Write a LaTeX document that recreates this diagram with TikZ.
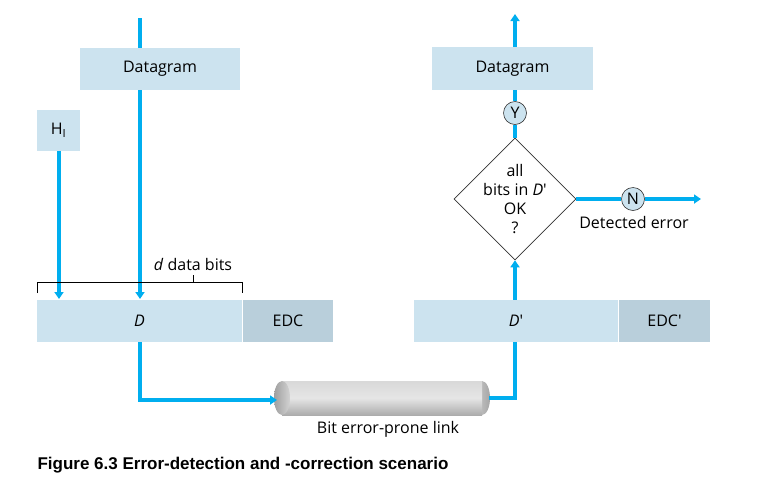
\documentclass[tikz,border=0pt]{standalone}
\usepackage{fontspec}
\setmainfont{Open Sans}
\newfontfamily\capfont{Liberation Sans}
\usetikzlibrary{arrows.meta,shapes.geometric}
\definecolor{boxblue}{HTML}{CCE3EF}
\definecolor{edcblue}{HTML}{B9CFDB}
\definecolor{flow}{HTML}{00AEEF}
\newcommand\myprime{{\upshape\textquotesingle}}
\begin{document}
\begin{tikzpicture}[x=1pt,y=-1pt,font=\fontsize{16}{18}\selectfont,
  box/.style={fill=boxblue,draw=none},
  edc/.style={fill=edcblue,draw=none},
  flow/.style={draw=flow,line width=3.2pt},
  arr/.style={flow,-{Triangle[length=7pt,width=9pt]}},
  yn/.style={circle,draw=black!80,fill=boxblue,inner sep=0pt,minimum size=23pt,line width=0.6pt}]
\useasboundingbox (0,0) rectangle (760,488);
% sender side
\coordinate (top1) at (140,18);
\draw[arr] (top1) -- (140,299);
\node[box,minimum width=160pt,minimum height=42pt] (dg1) at (160,69) {Datagram};
\node[box,minimum width=43pt,minimum height=41pt] (hi) at (58.5,130.5) {H\textsubscript{I}};
\node[box,minimum width=205pt,minimum height=42pt] (d) at (139.5,321) {\itshape D};
\node[edc,minimum width=90pt,minimum height=42pt] (edc) at (288,321) {EDC};
\draw[arr] (hi.south -| 59,0) -- (59,299);
% brace
\draw[line width=0.6pt] (37,293) -- (37,282) -- (242,282) -- (242,293);
\draw[line width=0.6pt] (193,282) -- (193,275);
\node (dbits) at (193,264) {\textit{d} data bits};
% link
\shade[left color=gray!40,right color=gray!70] (482,398) ellipse (8pt and 17pt);
\shade[top color=gray!30,bottom color=gray!65,middle color=gray!20] (282,381) rectangle (482,415);
\shade[left color=gray!75,right color=gray!35] (282,398) ellipse (8pt and 17pt);
\coordinate (linkl) at (277,400);
\coordinate (linkr) at (489,398);
\node (lnk) at (388,429) {Bit error-prone link};
\draw[arr] (d.south -| 140,0) -- (140,400) -- (linkl);
% receiver side
\coordinate (top2) at (515,14);
\draw[arr] (515,90) -- (top2);
\node[box,minimum width=204pt,minimum height=42pt] (dp) at (516,321) {\itshape D\myprime};
\node[edc,minimum width=91pt,minimum height=42pt] (edcp) at (664.5,321) {EDC\myprime};
\node[diamond,draw=black!80,line width=0.6pt,fill=white,minimum width=122pt,minimum height=122pt,inner sep=0pt] (chk) at (515,199) {};
\node[align=center,font=\fontsize{16}{19}\selectfont] (chktxt) at (chk.center) {all\\bits in \textit{D}\myprime\\OK\\?};
\node[box,minimum width=161pt,minimum height=43pt] (dg2) at (512.5,68.5) {Datagram};
\node[yn] (y) at (515,113) {Y};
\node[yn] (n) at (633,199) {N};
\coordinate (outn) at (701,199);
\node (det) at (634,222) {Detected error};
\draw[flow] (linkr) -- (515,398) -- (dp.south -| 515,0);
\draw[arr] (dp.north -| 515,0) -- (chk.south);
\draw[flow] (chk.north) -- (y);
\draw[flow] (y) -- (dg2.south -| 515,0);
\draw[flow] (chk.east) -- (n);
\draw[arr] (n) -- (outn);
\node[anchor=west,font=\capfont\bfseries\fontsize{17}{19}\selectfont] (cap) at (34,465) {Figure 6.3 Error-detection and -correction scenario};
\end{tikzpicture}
\end{document}
